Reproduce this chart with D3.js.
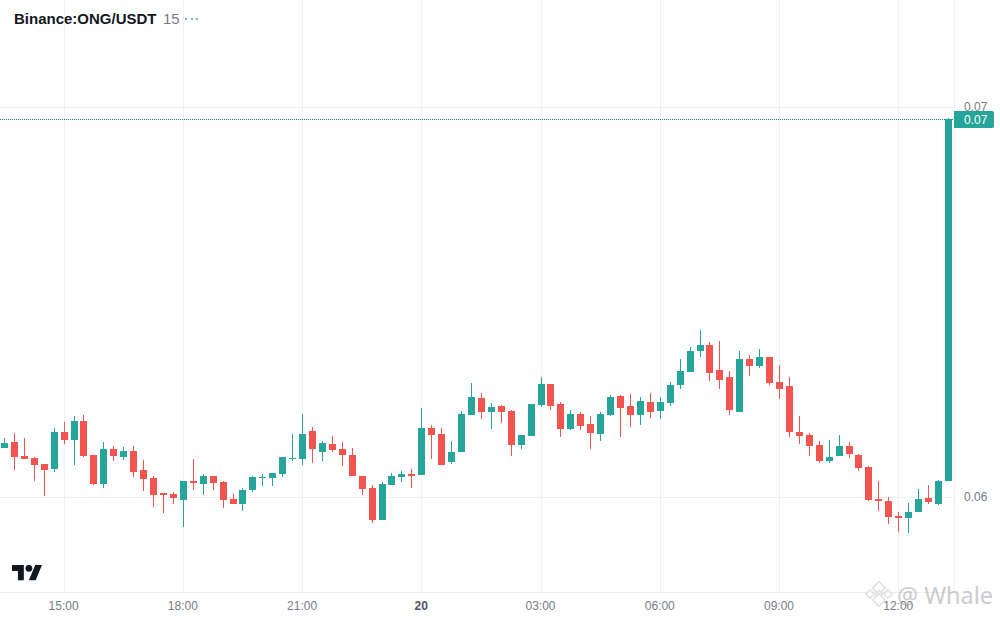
<!DOCTYPE html>
<html>
<head>
<meta charset="utf-8">
<title>Binance:ONG/USDT</title>
<script src="https://cdn.jsdelivr.net/npm/d3@7/dist/d3.min.js"></script>
<style>
  html, body { margin: 0; padding: 0; background: #fff; }
  svg { display: block; font-family: "Liberation Sans", Arial, sans-serif; }
</style>
</head>
<body>
<div id="chart"></div>
<script>
// 15 minute candles, oldest first
const opens = [
  0.06127, 0.06142, 0.06106, 0.06101, 0.06086, 0.06073, 0.06168, 0.06147, 0.06196, 0.06109, 0.06035, 0.06124,
  0.06104, 0.06119, 0.06071, 0.06050, 0.06012, 0.06009, 0.05994, 0.06042, 0.06035, 0.06055, 0.06040, 0.05996,
  0.05983, 0.06019, 0.06050, 0.06050, 0.06060, 0.06099, 0.06099, 0.06170, 0.06117, 0.06137, 0.06124, 0.06109,
  0.06055, 0.06024, 0.05942, 0.06032, 0.06053, 0.06060, 0.06058, 0.06178, 0.06163, 0.06091, 0.06117, 0.06212,
  0.06255, 0.06219, 0.06235, 0.06222, 0.06135, 0.06158, 0.06237, 0.06291, 0.06240, 0.06176, 0.06214, 0.06188,
  0.06163, 0.06212, 0.06260, 0.06235, 0.06212, 0.06245, 0.06222, 0.06242, 0.06288, 0.06322, 0.06376, 0.06391,
  0.06327, 0.06309, 0.06219, 0.06355, 0.06337, 0.06360, 0.06296, 0.06286, 0.06168, 0.06160, 0.06135, 0.06094,
  0.06106, 0.06132, 0.06109, 0.06078, 0.05996, 0.05991, 0.05953, 0.05947, 0.05963, 0.05999, 0.05983, 0.06042
]
const highs = [
  0.06153, 0.06165, 0.06153, 0.06104, 0.06086, 0.06178, 0.06194, 0.06209, 0.06212, 0.06109, 0.06142, 0.06132,
  0.06129, 0.06132, 0.06096, 0.06055, 0.06012, 0.06014, 0.06042, 0.06099, 0.06060, 0.06055, 0.06042, 0.06009,
  0.06024, 0.06055, 0.06060, 0.06063, 0.06104, 0.06163, 0.06214, 0.06181, 0.06145, 0.06158, 0.06142, 0.06127,
  0.06055, 0.06032, 0.06040, 0.06063, 0.06068, 0.06073, 0.06229, 0.06186, 0.06178, 0.06145, 0.06222, 0.06294,
  0.06268, 0.06242, 0.06237, 0.06224, 0.06160, 0.06240, 0.06309, 0.06291, 0.06245, 0.06224, 0.06219, 0.06209,
  0.06219, 0.06263, 0.06263, 0.06265, 0.06258, 0.06268, 0.06258, 0.06296, 0.06355, 0.06386, 0.06429, 0.06399,
  0.06401, 0.06324, 0.06376, 0.06365, 0.06381, 0.06360, 0.06340, 0.06309, 0.06209, 0.06165, 0.06145, 0.06147,
  0.06160, 0.06142, 0.06112, 0.06081, 0.06042, 0.06001, 0.05963, 0.05986, 0.06022, 0.06032, 0.06045, 0.06973
]
const lows = [
  0.06127, 0.06071, 0.06099, 0.06042, 0.06004, 0.06065, 0.06137, 0.06083, 0.06104, 0.06032, 0.06024, 0.06094,
  0.06096, 0.06053, 0.06017, 0.05976, 0.05960, 0.05983, 0.05924, 0.06019, 0.06006, 0.06019, 0.05973, 0.05983,
  0.05965, 0.06014, 0.06029, 0.06029, 0.06053, 0.06094, 0.06083, 0.06088, 0.06094, 0.06117, 0.06081, 0.06055,
  0.06006, 0.05935, 0.05942, 0.06032, 0.06040, 0.06024, 0.06058, 0.06099, 0.06083, 0.06086, 0.06117, 0.06212,
  0.06201, 0.06176, 0.06191, 0.06106, 0.06124, 0.06158, 0.06232, 0.06224, 0.06155, 0.06173, 0.06173, 0.06124,
  0.06145, 0.06209, 0.06155, 0.06181, 0.06186, 0.06204, 0.06201, 0.06235, 0.06278, 0.06322, 0.06360, 0.06299,
  0.06278, 0.06212, 0.06219, 0.06312, 0.06332, 0.06288, 0.06253, 0.06155, 0.06137, 0.06106, 0.06088, 0.06088,
  0.06106, 0.06101, 0.06068, 0.05991, 0.05965, 0.05932, 0.05912, 0.05909, 0.05963, 0.05983, 0.05981, 0.06042
]
const closes = [
  0.06140, 0.06104, 0.06099, 0.06083, 0.06071, 0.06168, 0.06147, 0.06196, 0.06106, 0.06035, 0.06124, 0.06106,
  0.06119, 0.06065, 0.06047, 0.06006, 0.06006, 0.05999, 0.06042, 0.06037, 0.06055, 0.06037, 0.05994, 0.05983,
  0.06019, 0.06053, 0.06053, 0.06063, 0.06104, 0.06101, 0.06163, 0.06124, 0.06140, 0.06122, 0.06109, 0.06055,
  0.06022, 0.05942, 0.06035, 0.06055, 0.06060, 0.06055, 0.06178, 0.06160, 0.06083, 0.06117, 0.06214, 0.06258,
  0.06219, 0.06232, 0.06219, 0.06135, 0.06160, 0.06240, 0.06291, 0.06235, 0.06176, 0.06214, 0.06183, 0.06165,
  0.06214, 0.06258, 0.06229, 0.06212, 0.06247, 0.06219, 0.06245, 0.06288, 0.06324, 0.06376, 0.06391, 0.06319,
  0.06301, 0.06224, 0.06355, 0.06337, 0.06360, 0.06294, 0.06278, 0.06168, 0.06158, 0.06132, 0.06094, 0.06104,
  0.06132, 0.06112, 0.06076, 0.05994, 0.05991, 0.05950, 0.05947, 0.05963, 0.05996, 0.05988, 0.06042, 0.06971
]

const firstTime = Date.UTC(2024, 0, 19, 13, 30)
const barMinutes = 15
const times = opens.map((d, i) => new Date(firstTime + i * barMinutes * 60000))

const timeTickBars = [6, 18, 30, 42, 54, 66, 78, 90]
const timeTickLabels = ['15:00', '18:00', '21:00', '20', '03:00', '06:00', '09:00', '12:00']
const priceTicks = [0.06, 0.07]

const upColor = '#26a69a'
const downColor = '#f25450'
const gridColor = '#f0f0f2'
const textColor = '#787b86'

const width = 1000, height = 620
const plotRight = 954, plotBottom = 592

const x = d3.scaleUtc()
    .domain([times[0], times[times.length - 1]])
    .range([4.48, 948.4])
const y = d3.scaleLinear()
    .domain([0.06, 0.07])
    .range([497.5, 107.5])

// candles sit on whole pixels, same as the canvas they came from
const col = d => Math.floor(x(d))
const row = d => Math.round(y(d))

const svg = d3.select('#chart').append('svg')
    .attr('width', width)
    .attr('height', height)

// grid
const grid = svg.append('g').attr('shape-rendering', 'crispEdges')
grid.selectAll('.vgrid')
    .data(timeTickBars)
    .join('rect')
    .attr('class', 'vgrid')
    .attr('x', i => col(times[i]))
    .attr('y', 0)
    .attr('width', 1)
    .attr('height', plotBottom)
    .attr('fill', gridColor)
grid.selectAll('.hgrid')
    .data(priceTicks)
    .join('rect')
    .attr('class', 'hgrid')
    .attr('x', 0)
    .attr('y', d => Math.floor(y(d)))
    .attr('width', plotRight)
    .attr('height', 1)
    .attr('fill', gridColor)
grid.append('rect')
    .attr('x', plotRight).attr('y', 0)
    .attr('width', 1).attr('height', plotBottom)
    .attr('fill', gridColor)
grid.append('rect')
    .attr('x', 0).attr('y', plotBottom)
    .attr('width', plotRight).attr('height', 1)
    .attr('fill', gridColor)

// last price line
const lastClose = closes[closes.length - 1]
svg.append('line')
    .attr('x1', 0)
    .attr('x2', plotRight)
    .attr('y1', row(lastClose) + 0.5)
    .attr('y2', row(lastClose) + 0.5)
    .attr('stroke', '#1a7f76')
    .attr('stroke-width', 1)
    .attr('stroke-dasharray', '1 1')
    .attr('shape-rendering', 'crispEdges')

// candles
const candles = svg.append('g')
    .attr('shape-rendering', 'crispEdges')
    .selectAll('g')
    .data(times.map((t, i) => i))
    .join('g')
    .attr('fill', i => closes[i] >= opens[i] ? upColor : downColor)
candles.append('rect')
    .attr('x', i => col(times[i]))
    .attr('width', 1)
    .attr('y', i => row(highs[i]))
    .attr('height', i => row(lows[i]) - row(highs[i]))
candles.append('rect')
    .attr('x', i => col(times[i]) - 3)
    .attr('width', 7)
    .attr('y', i => row(Math.max(opens[i], closes[i])))
    .attr('height', i => Math.abs(row(opens[i]) - row(closes[i])))

// time axis
const xAxis = d3.axisBottom(x)
    .tickValues(timeTickBars.map(i => times[i]))
    .tickFormat((d, i) => timeTickLabels[i])
    .tickSize(0)
    .tickPadding(0)
const xAxisG = svg.append('g')
    .attr('transform', 'translate(-1,' + 601 + ')')
    .call(xAxis)
xAxisG.select('.domain').remove()
xAxisG.selectAll('text')
    .attr('font-size', 12)
    .attr('font-family', '"Liberation Sans", Arial, sans-serif')
    .attr('font-weight', (d, i) => timeTickLabels[i] === '20' ? 'bold' : 'normal')
    .attr('fill', (d, i) => timeTickLabels[i] === '20' ? '#50535e' : textColor)

// price axis
const yAxis = d3.axisRight(y)
    .tickValues(priceTicks)
    .tickFormat(d3.format('.2f'))
    .tickSize(0)
    .tickPadding(0)
const yAxisG = svg.append('g')
    .attr('transform', 'translate(964,-1)')
    .call(yAxis)
yAxisG.select('.domain').remove()
yAxisG.selectAll('text')
    .attr('font-size', 12)
    .attr('font-family', '"Liberation Sans", Arial, sans-serif')
    .attr('fill', textColor)

// last price tag
svg.append('path')
    .attr('d', 'M954 ' + (row(lastClose) - 8) + 'h38q2 0 2 2v13q0 2 -2 2h-38z')
    .attr('fill', upColor)
svg.append('text')
    .attr('x', 964)
    .attr('y', row(lastClose) + 5)
    .attr('font-size', 12)
    .attr('fill', '#fff')
    .text(d3.format('.2f')(lastClose))

// title
const title = svg.append('text').attr('y', 24).attr('font-size', 15)
title.append('tspan')
    .attr('x', 14)
    .attr('font-weight', 'bold')
    .attr('fill', '#131722')
    .text('Binance:ONG/USDT')
title.append('tspan')
    .attr('x', 163)
    .attr('fill', textColor)
    .text('15')
svg.selectAll('.dot')
    .data([186, 192, 197])
    .join('circle')
    .attr('class', 'dot')
    .attr('cx', d => d)
    .attr('cy', 19)
    .attr('r', 0.9)
    .attr('fill', upColor)

// tradingview logo
const logo = svg.append('g')
    .attr('transform', 'translate(12,561.6) scale(0.845)')
    .attr('fill', '#131722')
logo.append('path').attr('d', 'M14 22H7V11H0V4h14v18zM28 22h-8l7.5-18h8L28 22z')
logo.append('circle').attr('cx', 20).attr('cy', 8).attr('r', 4)

// watermark
const mark = svg.append('g').attr('opacity', 0.5)
const diamonds = [[879, 588, 4.5], [870, 594, 3], [888, 594, 3], [879, 594, 2.5], [879, 600, 4.5]]
mark.selectAll('rect')
    .data(diamonds)
    .join('rect')
    .attr('x', d => -d[2])
    .attr('y', d => -d[2])
    .attr('width', d => d[2] * 2)
    .attr('height', d => d[2] * 2)
    .attr('transform', d => 'translate(' + d[0] + ',' + d[1] + ') rotate(45)')
    .attr('fill', '#fff')
    .attr('stroke', '#c4c4c8')
    .attr('stroke-width', 1.5)
mark.append('text')
    .attr('x', 897)
    .attr('y', 604)
    .attr('font-size', 23.5)
    .attr('font-family', '"Noto Sans", sans-serif')
    .attr('fill', '#9a9aa0')
    .text('@ Whale')
</script>
</body>
</html>
